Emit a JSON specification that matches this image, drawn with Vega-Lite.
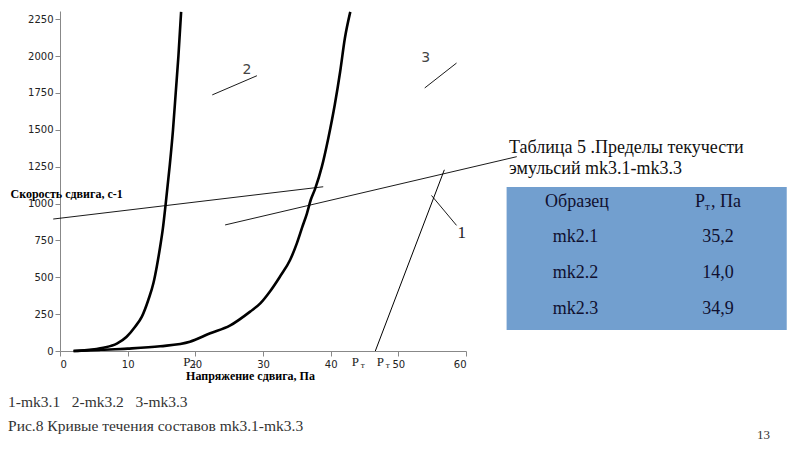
{
  "$schema": "https://vega.github.io/schema/vega-lite/v6.json",
  "width": 406,
  "height": 340,
  "autosize": "none",
  "padding": {"left": 60, "top": 11, "right": 334, "bottom": 99},
  "background": "white",
  "config": {
    "view": {"stroke": null},
    "axis": {
      "domainColor": "#888888",
      "tickColor": "#888888",
      "labelColor": "#222222",
      "labelFont": "DejaVu Sans",
      "labelFontSize": 10,
      "labelOverlap": false,
      "grid": false,
      "tickSize": 5,
      "titleFont": "Liberation Serif",
      "titleFontWeight": "bold",
      "titleFontSize": 12,
      "titleColor": "black"
    }
  },
  "datasets": {
    "curves": [
      {"series": "mk3.2", "stress": 2, "rate": 0},
      {"series": "mk3.2", "stress": 4, "rate": 6},
      {"series": "mk3.2", "stress": 6.4, "rate": 22},
      {"series": "mk3.2", "stress": 8.4, "rate": 50},
      {"series": "mk3.2", "stress": 9.85, "rate": 97},
      {"series": "mk3.2", "stress": 11.1, "rate": 165},
      {"series": "mk3.2", "stress": 12.1, "rate": 233},
      {"series": "mk3.2", "stress": 13.05, "rate": 346},
      {"series": "mk3.2", "stress": 13.8, "rate": 459},
      {"series": "mk3.2", "stress": 14.3, "rate": 572},
      {"series": "mk3.2", "stress": 14.8, "rate": 707},
      {"series": "mk3.2", "stress": 15.2, "rate": 830},
      {"series": "mk3.2", "stress": 15.6, "rate": 990},
      {"series": "mk3.2", "stress": 16.2, "rate": 1250},
      {"series": "mk3.2", "stress": 16.7, "rate": 1500},
      {"series": "mk3.2", "stress": 17.1, "rate": 1750},
      {"series": "mk3.2", "stress": 17.5, "rate": 2000},
      {"series": "mk3.2", "stress": 17.9, "rate": 2300},
      {"series": "mk3.3", "stress": 2, "rate": 0},
      {"series": "mk3.3", "stress": 6, "rate": 8},
      {"series": "mk3.3", "stress": 10, "rate": 16},
      {"series": "mk3.3", "stress": 14.8, "rate": 32},
      {"series": "mk3.3", "stress": 19.2, "rate": 63},
      {"series": "mk3.3", "stress": 22.2, "rate": 120},
      {"series": "mk3.3", "stress": 25.1, "rate": 172},
      {"series": "mk3.3", "stress": 28.1, "rate": 267},
      {"series": "mk3.3", "stress": 29.6, "rate": 323},
      {"series": "mk3.3", "stress": 31, "rate": 402},
      {"series": "mk3.3", "stress": 32.5, "rate": 504},
      {"series": "mk3.3", "stress": 34, "rate": 617},
      {"series": "mk3.3", "stress": 35, "rate": 730},
      {"series": "mk3.3", "stress": 35.8, "rate": 840},
      {"series": "mk3.3", "stress": 36.5, "rate": 934},
      {"series": "mk3.3", "stress": 37.05, "rate": 1024},
      {"series": "mk3.3", "stress": 37.7, "rate": 1100},
      {"series": "mk3.3", "stress": 38.7, "rate": 1250},
      {"series": "mk3.3", "stress": 39.65, "rate": 1443},
      {"series": "mk3.3", "stress": 40.6, "rate": 1668},
      {"series": "mk3.3", "stress": 41.4, "rate": 1894},
      {"series": "mk3.3", "stress": 42.1, "rate": 2121},
      {"series": "mk3.3", "stress": 42.9, "rate": 2300}
    ],
    "yield": [
      {"series": "mk3.1", "stress": 46.6, "rate": 0},
      {"series": "mk3.1", "stress": 56.8, "rate": 1229}
    ],
    "leaders": [
      {"id": "a", "stress": -1.0, "rate": 895},
      {"id": "a", "stress": 38.9, "rate": 1114},
      {"id": "b", "stress": 24.4, "rate": 855},
      {"id": "b", "stress": 67.5, "rate": 1318},
      {"id": "l1", "stress": 54.9, "rate": 1055},
      {"id": "l1", "stress": 58.6, "rate": 852},
      {"id": "l2", "stress": 22.5, "rate": 1737},
      {"id": "l2", "stress": 29.1, "rate": 1867},
      {"id": "l3", "stress": 53.9, "rate": 1784},
      {"id": "l3", "stress": 58.6, "rate": 1953}
    ],
    "table": [
      {"sample": "mk2.1", "pt": "35,2"},
      {"sample": "mk2.2", "pt": "14,0"},
      {"sample": "mk2.3", "pt": "34,9"}
    ],
    "yieldMarks": [{"stress": 18.22}, {"stress": 43.1}, {"stress": 46.8}],
    "one": [{}]
  },
  "layer": [
    {
      "layer": [
        {
          "data": {"name": "curves"},
          "mark": {"type": "line", "color": "black", "strokeWidth": 2.6, "interpolate": "monotone"},
          "encoding": {
            "x": {"field": "stress", "type": "quantitative", "scale": {"domain": [0, 60], "nice": false},
              "axis": {"values": [0, 10, 20, 30, 40, 50, 60], "tickCount": 12, "labelPadding": 3, "title": "Напряжение сдвига, Па",
                "titleX": 190, "titleY": 28, "titleAlign": "center", "titleBaseline": "alphabetic"}},
            "y": {"field": "rate", "type": "quantitative", "scale": {"domain": [0, 2306], "nice": false},
              "axis": {"values": [0, 250, 500, 750, 1000, 1250, 1500, 1750, 2000, 2250], "tickCount": 12, "format": "d", "labelPadding": 2,
                "labelOverlap": false,
                "title": "Скорость сдвига, с-1", "titleAngle": 0, "titleAlign": "left", "titleBaseline": "alphabetic",
                "titleX": -50, "titleY": 186}},
            "detail": {"field": "series"}
          }
        },
        {
          "data": {"name": "one"},
          "mark": {"type": "rect", "color": "#729fcf"},
          "encoding": {
            "x": {"datum": 66.0}, "x2": {"datum": 107.4},
            "y": {"datum": 1112}, "y2": {"datum": 142.4}
          }
        },
        {
          "data": {"name": "yield"},
          "mark": {"type": "line", "color": "black", "strokeWidth": 1},
          "encoding": {
            "x": {"field": "stress", "type": "quantitative"},
            "y": {"field": "rate", "type": "quantitative"}
          }
        },
        {
          "data": {"name": "leaders"},
          "mark": {"type": "line", "color": "black", "strokeWidth": 0.9},
          "encoding": {
            "x": {"field": "stress", "type": "quantitative"},
            "y": {"field": "rate", "type": "quantitative"},
            "detail": {"field": "id"}
          }
        },
        {
          "data": {"name": "one"},
          "mark": {"type": "text", "font": "DejaVu Sans", "fontSize": 14, "color": "#444444", "align": "center", "baseline": "alphabetic"},
          "encoding": {"x": {"datum": 27.64}, "y": {"datum": 1879}, "text": {"value": "2"}}
        },
        {
          "data": {"name": "one"},
          "mark": {"type": "text", "font": "DejaVu Sans", "fontSize": 14, "color": "#444444", "align": "center", "baseline": "alphabetic"},
          "encoding": {"x": {"datum": 54.05}, "y": {"datum": 1962}, "text": {"value": "3"}}
        },
        {
          "data": {"name": "one"},
          "mark": {"type": "text", "font": "Liberation Serif", "fontSize": 17, "color": "#222222", "align": "center", "baseline": "alphabetic"},
          "encoding": {"x": {"datum": 59.36}, "y": {"datum": 764}, "text": {"value": "1"}}
        },
        {
          "data": {"name": "yieldMarks"},
          "mark": {"type": "text", "font": "Liberation Serif", "fontSize": 13, "color": "#222222", "align": "left", "baseline": "alphabetic"},
          "encoding": {"x": {"field": "stress", "type": "quantitative"}, "y": {"datum": -101.7}, "text": {"value": "P"}}
        },
        {
          "data": {"name": "yieldMarks"},
          "mark": {"type": "text", "font": "Liberation Serif", "fontSize": 9, "color": "#222222", "align": "left", "baseline": "alphabetic", "dx": 9, "dy": 2},
          "encoding": {"x": {"field": "stress", "type": "quantitative"}, "y": {"datum": -101.7}, "text": {"value": "т"}}
        },
        {
          "data": {"name": "one"},
          "mark": {"type": "text", "font": "Liberation Serif", "fontSize": 18, "color": "#111111", "align": "left", "baseline": "alphabetic", "lineHeight": 21},
          "encoding": {"x": {"datum": 66.35}, "y": {"datum": 1346}, "text": {"value": ["Таблица 5 .Пределы текучести", "эмульсий  mk3.1-mk3.3"]}}
        },
        {
          "data": {"name": "one"},
          "mark": {"type": "text", "font": "Liberation Serif", "fontSize": 15.5, "color": "#333333", "align": "left", "baseline": "alphabetic", "lineHeight": 24},
          "encoding": {"x": {"datum": -7.68}, "y": {"datum": -378}, "text": {"value": ["1-mk3.1\u00a0\u00a0\u00a02-mk3.2\u00a0\u00a0\u00a03-mk3.3", "Рис.8 Кривые течения составов mk3.1-mk3.3"]}}
        },
        {
          "data": {"name": "one"},
          "mark": {"type": "text", "font": "Liberation Serif", "fontSize": 13, "color": "#333333", "align": "left", "baseline": "alphabetic"},
          "encoding": {"x": {"datum": 103.0}, "y": {"datum": -597}, "text": {"value": "13"}}
        }
      ]
    },
    {
      "layer": [
        {
          "data": {"name": "table"},
          "mark": {"type": "text", "font": "Liberation Serif", "fontSize": 18, "color": "#101030", "align": "center", "baseline": "alphabetic"},
          "encoding": {
            "x": {"datum": 76.2},
            "y": {"field": "sample", "type": "ordinal", "scale": {"type": "point", "domain": ["Образец", "mk2.1", "mk2.2", "mk2.3"], "range": [195.7, 303], "padding": 0}, "axis": null},
            "text": {"field": "sample"}
          }
        },
        {
          "data": {"name": "table"},
          "mark": {"type": "text", "font": "Liberation Serif", "fontSize": 18, "color": "#101030", "align": "center", "baseline": "alphabetic"},
          "encoding": {
            "x": {"datum": 97.25},
            "y": {"field": "sample", "type": "ordinal", "axis": null},
            "text": {"field": "pt"}
          }
        },
        {
          "data": {"name": "one"},
          "mark": {"type": "text", "font": "Liberation Serif", "fontSize": 18, "color": "#101030", "align": "center", "baseline": "alphabetic"},
          "encoding": {"x": {"datum": 76.4}, "y": {"datum": "Образец", "axis": null}, "text": {"value": "Образец"}}
        },
        {
          "data": {"name": "one"},
          "mark": {"type": "text", "font": "Liberation Serif", "fontSize": 18, "color": "#101030", "align": "left", "baseline": "alphabetic"},
          "encoding": {"x": {"datum": 93.84}, "y": {"datum": "Образец", "axis": null}, "text": {"value": "P"}}
        },
        {
          "data": {"name": "one"},
          "mark": {"type": "text", "font": "Liberation Serif", "fontSize": 11, "color": "#101030", "align": "left", "baseline": "alphabetic", "dx": 10, "dy": 3},
          "encoding": {"x": {"datum": 93.84}, "y": {"datum": "Образец", "axis": null}, "text": {"value": "т"}}
        },
        {
          "data": {"name": "one"},
          "mark": {"type": "text", "font": "Liberation Serif", "fontSize": 18, "color": "#101030", "align": "left", "baseline": "alphabetic", "dx": 16},
          "encoding": {"x": {"datum": 93.84}, "y": {"datum": "Образец", "axis": null}, "text": {"value": ", Па"}}
        }
      ]
    }
  ],
  "resolve": {"scale": {"y": "independent"}}
}
